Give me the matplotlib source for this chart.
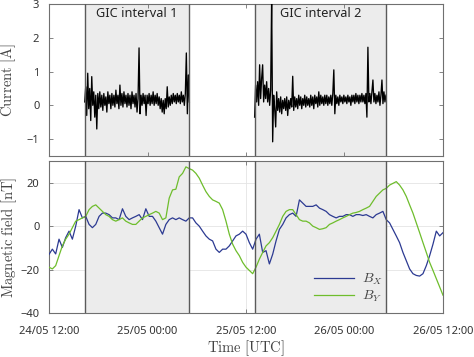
import numpy as np
import matplotlib
matplotlib.use("Agg")
import matplotlib.pyplot as plt

plt.rcParams['mathtext.fontset'] = 'cm'
plt.rcParams['font.family'] = ['Noto Sans', 'DejaVu Sans']

# ---- data (hours since 24/05 12:00 UTC) ----
tick_hours = [0, 12, 24, 36, 48]
tick_labels = ['24/05 12:00', '25/05 00:00', '25/05 12:00', '26/05 00:00', '26/05 12:00']
interval1 = [4.35, 17.1]
interval2 = [25.05, 41.05]
interval_names = ['GIC interval 1', 'GIC interval 2']

current1 = [0.1, 0.55, -0.3, 0.95, -0.1, 0.5, -0.45, 0.85, 0.0, 0.4,
            -0.35, 0.3, -0.7, 0.35, -0.1, 0.4, -0.05, 0.3, -0.15, 0.35,
            0.0, 0.25, -0.2, 0.4, 0.05, 0.3, -0.1, 0.35, 0.0, 0.3,
            -0.05, 0.45, 0.05, 0.3, -0.1, 0.6, 0.0, 0.35, -0.05, 0.4,
            0.05, 0.3, -0.05, 0.35, 0.0, 0.3, -0.1, 0.4, 0.05, 0.3,
            -0.05, 0.35, -0.2, 0.2, 1.7, -0.25, 0.3, 0.0, 0.35, 0.05,
            0.3, -0.3, 0.3, 0.05, 0.35, 0.0, 0.3, 0.05, 0.4, 0.0,
            0.3, 0.05, 0.35, 0.0, 0.25, -0.1, 0.2, -0.2, 0.15, -0.25,
            0.2, -0.1, 0.55, -0.05, 0.25, 0.0, 0.3, 0.05, 0.35, 0.1,
            0.3, 0.05, 0.35, 0.1, 0.3, 0.05, 0.4, 0.1, 0.3, 0.0,
            0.35, 1.55, -0.25, 0.9, 0.1]

current2 = [-0.35, 0.6, 0.1, 0.7, 0.0, 1.2, 0.2, 0.8, 1.2, 0.1,
            0.6, 0.2, 0.7, 0.1, 0.5, 0.0, 0.45, 3.2, -1.08, 0.3,
            -0.1, -0.64, 0.4, -0.15, 0.2, -0.2, 0.25, -0.25, 0.15, -0.1,
            0.2, -0.15, 0.25, -0.3, 0.15, -0.1, 0.2, -0.05, 0.86, -0.15,
            0.25, -0.05, 0.2, -0.1, 0.3, 0.0, 0.25, -0.1, 0.2, 0.0,
            0.3, -0.05, 0.25, 0.0, 0.2, -0.05, 0.3, 0.0, 0.25, -0.1,
            0.3, 0.05, 0.25, -0.05, 0.4, 0.0, 0.3, 0.05, 0.25, 0.0,
            0.3, 0.05, 0.3, 0.0, 0.25, 0.05, 0.3, 0.0, 0.35, 1.05,
            -0.25, 0.3, 0.05, 0.25, 0.0, 0.3, 0.1, 0.25, 0.05, 0.3,
            0.1, 0.25, 0.05, 0.3, 0.1, 0.25, 0.0, 0.3, 0.1, 0.3,
            0.05, 0.35, 0.1, 0.3, 0.05, 0.3, 0.1, 0.35, 0.1, 0.3,
            0.05, 0.35, -0.35, 1.72, 0.1, 0.35, 0.05, 0.4, 0.75, 0.1,
            0.35, 0.05, 0.3, 0.1, 0.4, 0.0, 0.3, 0.75, 0.05, 0.4,
            0.1, 0.3]

bx = [-13, -10.6, -12.8, -6, -9.8, -5.3, -2.3, -6, 0, 7.6,
      3.8, 4.5, 0.8, -0.7, 0.8, 4.5, 6, 6, 5.3, 3.8,
      3.8, 3, 8, 4.5, 3, 3.8, 4.5, 5.3, 3, 8,
      4.5, 4.5, 2.3, -0.7, -3.7, 0.8, 3, 3.8, 3,
      3.8, 3, 2.3, 3.8, 3.8, 1.5, 0, -2.3, -4.5, -6,
      -6.8, -10.6, -12.1, -10.6, -10.6, -9.1, -6.8, -4.5, -3.7, -2.3,
      -3.7, -7.6, -10.6, -6, -3.7, -12.1, -11.3, -17.4, -12.9, -6.8,
      -1.5, 0.8, 3.8, 5.3, 6, 4.5, 12.1, 10.6, 9.1,
      9.1, 9.1, 9.8, 8.3, 7.6, 6.8, 5.3, 4.5, 3.8, 4.5,
      4.5, 5.3, 5.3, 4.5, 5.3, 5.3, 4.9, 5.3, 4.5, 3.8,
      5.3, 6, 6.8, 3, 1.5, -1.5, -4.5, -7.6, -12.1, -15.9,
      -19.7, -21.9, -22.7, -23, -21.9, -18.2, -13.6, -8.3, -2.3, -4.5,
      -3]

by = [-18.9, -19.7, -18.2, -13.6, -9.1, -6, -3.7, -0.7, 2.3, 3,
      3.8, 4.5, 7.6, 9.1, 9.8, 8.3, 6.8, 5.3, 4.5, 3,
      2.3, 3, 3.8, 2.3, 1.5, 0.8, 0.8, 2.3, 3.8, 4.5,
      5.3, 6, 6.8, 6, 3, 3.8, 12.9, 16.7, 17,
      22.7, 24.3, 27.3, 26.5, 25.8, 24.3, 22.1, 18.9, 15.9, 13.7,
      12.1, 11.4, 10.6, 7.6, 2.3, -3.7, -8.3, -11.3, -13.6, -16.7,
      -18.9, -20.4, -21.9, -18.9, -15.2, -12.1, -9.1, -7.6, -5.3, -2.3,
      0.8, 4.5, 6.8, 7.6, 7.6, 5.3, 3, 2.3, 2.3,
      1.5, 0, -0.7, -1.5, -1.2, -0.7, 0.8, 1.5, 2.3, 3,
      3.8, 4.5, 5.3, 6, 6.3, 6.8, 7.6, 8.3, 9.1, 11.4,
      13.7, 15.2, 16.7, 17.4, 18.9, 19.7, 20.5, 18.9, 16.7, 13.7,
      9.8, 6, 1.5, -3, -7.6, -12.1, -16.7, -20.4, -24.2, -28,
      -31.8]

# ---- styles ----
c_bx = '#2c3a92'
c_by = '#6ebd2c'
shade = '#ececec'
edge = '#5a5a5a'
spine_c = '#707070'
tick_c = '#333333'
label_c = '#444444'

fig = plt.figure(figsize=(4.74, 3.57), dpi=100)
L, W, H = 49/474, 394/474, 152/357
ax1 = fig.add_axes([L, 1-156/357, W, H])
ax2 = fig.add_axes([L, 1-313/357, W, H])

for ax in (ax1, ax2):
    for iv in (interval1, interval2):
        ax.axvspan(iv[0], iv[1], facecolor=shade, edgecolor='none', zorder=1)
        for xv in iv:
            ax.axvline(xv, color=edge, lw=1.0, zorder=4)
    ax.set_xlim(0, 48)
    ax.set_xticks(tick_hours)
    ax.tick_params(direction='in', length=3, width=0.6, colors=spine_c,
                   labelcolor=tick_c, labelsize=8, top=True, right=True)
    ax.tick_params(axis='y', pad=7)
    ax.tick_params(axis='x', pad=9)
    for s in ax.spines.values():
        s.set_color(spine_c)
        s.set_linewidth(0.8)

# current
t1 = np.linspace(interval1[0], interval1[1], len(current1))
t2 = np.linspace(interval2[0], interval2[1], len(current2))
ax1.plot(t1, current1, color='black', lw=0.95, zorder=3)
ax1.plot(t2, current2, color='black', lw=0.95, zorder=3)
ax1.set_ylim(-1.5, 3)
ax1.set_yticks([-1, 0, 1, 2, 3])
ax1.set_xticklabels([])
ax1.set_ylabel(r'$\mathrm{Current\ [A]}$', fontsize=10.5, color=label_c, labelpad=6)
for iv, name in zip((interval1, interval2), interval_names):
    ax1.text((iv[0] + iv[1]) / 2, 2.72, name, ha='center', va='center',
             fontsize=9.2, color='#222222', zorder=5)

# magnetic field
tb = np.linspace(0, 48, len(bx))
ax2.grid(True, color='#e4e4e4', lw=0.6, zorder=0)
ax2.set_axisbelow(True)
ax2.plot(tb, bx, color=c_bx, lw=0.9, zorder=3, label=r'$B_X$')
ax2.plot(tb, by, color=c_by, lw=0.9, zorder=3, label=r'$B_Y$')
ax2.set_ylim(-40, 30)
ax2.set_yticks([-40, -20, 0, 20])
ax2.set_xticklabels(tick_labels)
ax2.set_ylabel(r'$\mathrm{Magnetic\ field\ [nT]}$', fontsize=10.5, color=label_c, labelpad=1)
ax2.set_xlabel(r'$\mathrm{Time\ [UTC]}$', fontsize=10.5, color=label_c, labelpad=1)
leg = ax2.legend(loc='center', bbox_to_anchor=(0.76, 0.165), frameon=False,
                 fontsize=10, handlelength=2.9, labelspacing=0.1,
                 handletextpad=0.6, borderpad=0.2)
for txt in leg.get_texts():
    txt.set_color(label_c)

fig.savefig('out.png', dpi=100)
